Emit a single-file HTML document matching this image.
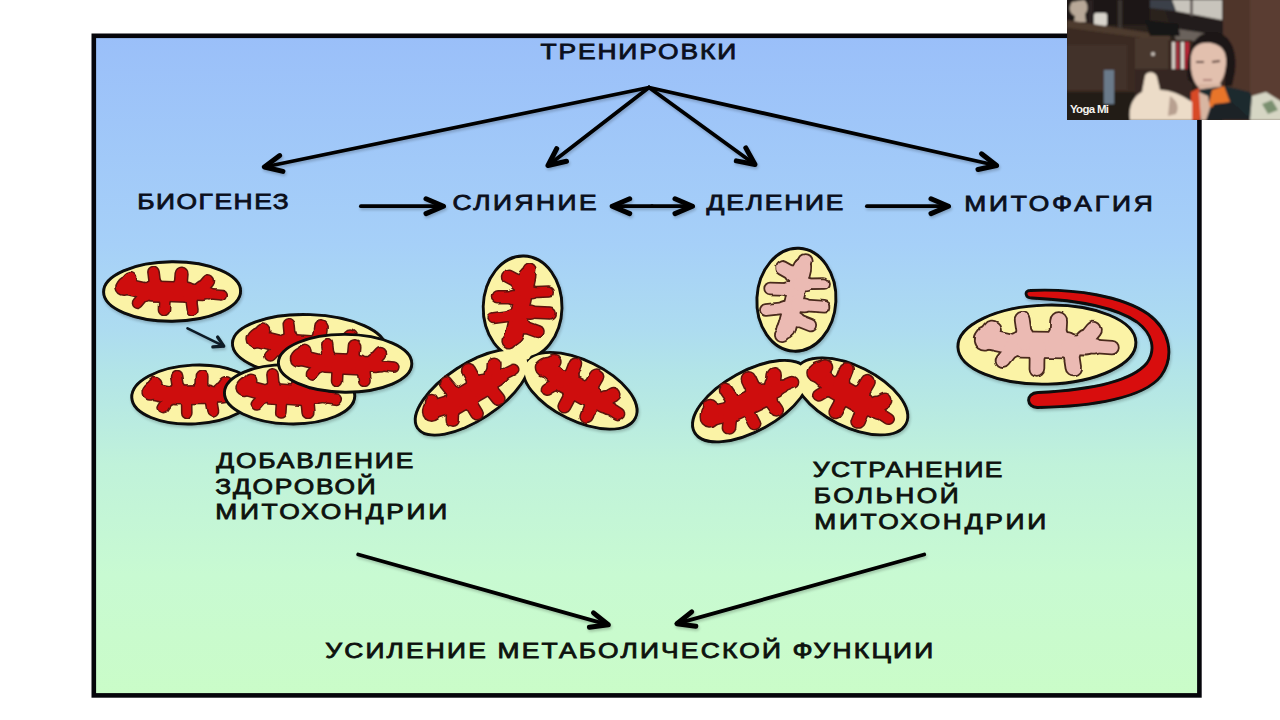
<!DOCTYPE html>
<html><head><meta charset="utf-8"><style>
html,body{margin:0;padding:0;background:#fff;width:1280px;height:720px;overflow:hidden}
svg{display:block}
</style></head><body>
<svg width="1280" height="720" viewBox="0 0 1280 720">
<defs>
<linearGradient id="bg" gradientUnits="userSpaceOnUse" x1="0" y1="36" x2="0" y2="695">
<stop offset="0" stop-color="#9abff9"/>
<stop offset="0.317" stop-color="#a6d0f8"/>
<stop offset="0.446" stop-color="#addcf0"/>
<stop offset="0.507" stop-color="#b2e4e8"/>
<stop offset="0.651" stop-color="#c0f2da"/>
<stop offset="0.818" stop-color="#c8fad2"/>
<stop offset="1" stop-color="#cafcc8"/>
</linearGradient>
<filter id="sh" x="-10%" y="-10%" width="120%" height="120%"><feGaussianBlur in="SourceAlpha" stdDeviation="1.6"/><feOffset dx="1" dy="1.5"/><feComponentTransfer><feFuncA type="linear" slope="0.22"/></feComponentTransfer><feMerge><feMergeNode/><feMergeNode in="SourceGraphic"/></feMerge></filter>
<filter id="wob" x="-15%" y="-15%" width="130%" height="130%"><feTurbulence type="fractalNoise" baseFrequency="0.06" numOctaves="1" seed="7"/><feDisplacementMap in="SourceGraphic" scale="4" xChannelSelector="R" yChannelSelector="G"/><feGaussianBlur stdDeviation="0.5"/></filter>
</defs>
<rect x="0" y="0" width="1280" height="720" fill="#ffffff"/>
<rect x="93.8" y="35.8" width="1105.6" height="659.6" fill="url(#bg)" stroke="#05050a" stroke-width="4.6"/>
<g font-family="Liberation Sans, sans-serif" font-weight="normal"><g transform="translate(540.4,59.4) scale(1.2,1)"><text x="0" y="0" textLength="163.2" lengthAdjust="spacing" font-size="22" fill="#0b0f1c" stroke="#0b0f1c" stroke-width="0.8">ТРЕНИРОВКИ</text></g><g transform="translate(137.2,209) scale(1.2,1)"><text x="0" y="0" textLength="126.2" lengthAdjust="spacing" font-size="22" fill="#0b0f1c" stroke="#0b0f1c" stroke-width="0.8">БИОГЕНЕЗ</text></g><g transform="translate(452.6,210.3) scale(1.2,1)"><text x="0" y="0" textLength="120" lengthAdjust="spacing" font-size="22" fill="#0b0f1c" stroke="#0b0f1c" stroke-width="0.8">СЛИЯНИЕ</text></g><g transform="translate(706.6,210.3) scale(1.2,1)"><text x="0" y="0" textLength="114" lengthAdjust="spacing" font-size="22" fill="#0b0f1c" stroke="#0b0f1c" stroke-width="0.8">ДЕЛЕНИЕ</text></g><g transform="translate(964.2,211.2) scale(1.2,1)"><text x="0" y="0" textLength="157.2" lengthAdjust="spacing" font-size="22" fill="#0b0f1c" stroke="#0b0f1c" stroke-width="0.8">МИТОФАГИЯ</text></g><g transform="translate(216.2,468.2) scale(1.2,1)"><text x="0" y="0" textLength="164.2" lengthAdjust="spacing" font-size="22" fill="#0e120e" stroke="#0e120e" stroke-width="0.8">ДОБАВЛЕНИЕ</text></g><g transform="translate(215.2,493.6) scale(1.2,1)"><text x="0" y="0" textLength="133.8" lengthAdjust="spacing" font-size="22" fill="#0e120e" stroke="#0e120e" stroke-width="0.8">ЗДОРОВОЙ</text></g><g transform="translate(215.2,519.4) scale(1.2,1)"><text x="0" y="0" textLength="193.3" lengthAdjust="spacing" font-size="22" fill="#0e120e" stroke="#0e120e" stroke-width="0.8">МИТОХОНДРИИ</text></g><g transform="translate(812.8,477.2) scale(1.2,1)"><text x="0" y="0" textLength="158" lengthAdjust="spacing" font-size="22" fill="#0e120e" stroke="#0e120e" stroke-width="0.8">УСТРАНЕНИЕ</text></g><g transform="translate(813.8,503) scale(1.2,1)"><text x="0" y="0" textLength="120.7" lengthAdjust="spacing" font-size="22" fill="#0e120e" stroke="#0e120e" stroke-width="0.8">БОЛЬНОЙ</text></g><g transform="translate(814.2,529) scale(1.2,1)"><text x="0" y="0" textLength="193.3" lengthAdjust="spacing" font-size="22" fill="#0e120e" stroke="#0e120e" stroke-width="0.8">МИТОХОНДРИИ</text></g><g transform="translate(325.2,657.8) scale(1.2,1)"><text x="0" y="0" textLength="506.7" lengthAdjust="spacing" font-size="22" fill="#0e120e" stroke="#0e120e" stroke-width="0.8">УСИЛЕНИЕ МЕТАБОЛИЧЕСКОЙ ФУНКЦИИ</text></g></g>
<g filter="url(#sh)"><path d="M649,87.5 L264.4,167" fill="none" stroke="#050505" stroke-width="3.8" stroke-linecap="round"/><path d="M279.7,155.6 L264.4,167 L282.9,171.4" fill="none" stroke="#050505" stroke-width="5" stroke-linecap="round" stroke-linejoin="round"/><path d="M649,87.5 L548,165.5" fill="none" stroke="#050505" stroke-width="3.8" stroke-linecap="round"/><path d="M556.7,148.6 L548,165.5 L566.5,161.3" fill="none" stroke="#050505" stroke-width="5" stroke-linecap="round" stroke-linejoin="round"/><path d="M649,87.5 L755,164.5" fill="none" stroke="#050505" stroke-width="3.8" stroke-linecap="round"/><path d="M736.3,160.9 L755,164.5 L745.8,147.9" fill="none" stroke="#050505" stroke-width="5" stroke-linecap="round" stroke-linejoin="round"/><path d="M649,87.5 L996.6,165.5" fill="none" stroke="#050505" stroke-width="3.8" stroke-linecap="round"/><path d="M978,169.5 L996.6,165.5 L981.5,153.8" fill="none" stroke="#050505" stroke-width="5" stroke-linecap="round" stroke-linejoin="round"/><path d="M360.9,206.2 L443.5,206.2" fill="none" stroke="#050505" stroke-width="3.8" stroke-linecap="round"/><path d="M426,213.6 L443.5,206.2 L426,198.8" fill="none" stroke="#050505" stroke-width="5" stroke-linecap="round" stroke-linejoin="round"/><path d="M866.9,206.2 L948.5,206.2" fill="none" stroke="#050505" stroke-width="3.8" stroke-linecap="round"/><path d="M931,213.6 L948.5,206.2 L931,198.8" fill="none" stroke="#050505" stroke-width="5" stroke-linecap="round" stroke-linejoin="round"/><path d="M652,206.2 L612.2,206.2" fill="none" stroke="#050505" stroke-width="3.8" stroke-linecap="round"/><path d="M629.7,198.8 L612.2,206.2 L629.7,213.6" fill="none" stroke="#050505" stroke-width="5" stroke-linecap="round" stroke-linejoin="round"/><path d="M652,206.2 L692.5,206.2" fill="none" stroke="#050505" stroke-width="3.8" stroke-linecap="round"/><path d="M675,213.6 L692.5,206.2 L675,198.8" fill="none" stroke="#050505" stroke-width="5" stroke-linecap="round" stroke-linejoin="round"/><path d="M358.2,554.5 L608.3,624.8" fill="none" stroke="#050505" stroke-width="3.8" stroke-linecap="round"/><path d="M589.4,627.2 L608.3,624.8 L593.5,612.9" fill="none" stroke="#050505" stroke-width="5" stroke-linecap="round" stroke-linejoin="round"/><path d="M924.2,554.5 L676.9,623.7" fill="none" stroke="#050505" stroke-width="3.8" stroke-linecap="round"/><path d="M691.7,611.9 L676.9,623.7 L695.8,626.2" fill="none" stroke="#050505" stroke-width="5" stroke-linecap="round" stroke-linejoin="round"/><path d="M187.5,328.3 L223.8,346.1" fill="none" stroke="#0c1a26" stroke-width="2.6" stroke-linecap="round"/><path d="M212.8,346.8 L223.8,346.1 L217.6,337" fill="none" stroke="#0c1a26" stroke-width="3.2" stroke-linecap="round" stroke-linejoin="round"/></g>
<g filter="url(#sh)"><g><ellipse cx="172.1" cy="291.5" rx="68.5" ry="29.7" transform="rotate(-0.4 172.1 291.5)" fill="#fbf3a6" stroke="#080808" stroke-width="2.9"/><g filter="url(#wob)"><g fill="none" stroke="#5c1410" stroke-linecap="round" stroke-linejoin="round"><path d="M126.9,286.5 L144.7,290.5 L172.1,291.5 L202.9,292.5" stroke-width="17.3"/><path d="M151.5,291 L187.2,292.3" stroke-width="21.4"/><path d="M124.1,287.1 L130.2,279.3" stroke-width="14.9"/><path d="M124.1,287.1 L126,284.8" stroke-width="17.9"/><path d="M147.4,291.7 L137.9,303" stroke-width="12.5"/><path d="M147.4,291.7 L144.6,295.1" stroke-width="14.9"/><path d="M155.6,289.2 L153.5,272" stroke-width="12.8"/><path d="M155.6,289.2 L155,284.1" stroke-width="15.3"/><path d="M180.3,290.3 L181.6,273.6" stroke-width="14.3"/><path d="M180.3,290.3 L180.7,285.3" stroke-width="17.1"/><path d="M199.5,291.3 L208.3,281.1" stroke-width="14"/><path d="M199.5,291.3 L202.1,288.3" stroke-width="16.7"/><path d="M164.6,292.7 L164,310" stroke-width="12.8"/><path d="M164.6,292.7 L164.4,297.9" stroke-width="15.3"/><path d="M189.9,292.9 L192.1,309.2" stroke-width="13.4"/><path d="M189.9,292.9 L190.6,297.8" stroke-width="16"/><path d="M202.9,293.1 L222.1,294.7" stroke-width="11.9"/><path d="M202.9,293.1 L208.7,293.6" stroke-width="14.1"/></g><g fill="none" stroke="#ce0e0e" stroke-linecap="round" stroke-linejoin="round"><path d="M126.9,286.5 L144.7,290.5 L172.1,291.5 L202.9,292.5" stroke-width="14.3"/><path d="M151.5,291 L187.2,292.3" stroke-width="18.4"/><path d="M124.1,287.1 L130.2,279.3" stroke-width="11.9"/><path d="M124.1,287.1 L126,284.8" stroke-width="14.8"/><path d="M147.4,291.7 L137.9,303" stroke-width="9.5"/><path d="M147.4,291.7 L144.6,295.1" stroke-width="11.9"/><path d="M155.6,289.2 L153.5,272" stroke-width="9.8"/><path d="M155.6,289.2 L155,284.1" stroke-width="12.3"/><path d="M180.3,290.3 L181.6,273.6" stroke-width="11.3"/><path d="M180.3,290.3 L180.7,285.3" stroke-width="14.1"/><path d="M199.5,291.3 L208.3,281.1" stroke-width="11"/><path d="M199.5,291.3 L202.1,288.3" stroke-width="13.7"/><path d="M164.6,292.7 L164,310" stroke-width="9.8"/><path d="M164.6,292.7 L164.4,297.9" stroke-width="12.3"/><path d="M189.9,292.9 L192.1,309.2" stroke-width="10.4"/><path d="M189.9,292.9 L190.6,297.8" stroke-width="13"/><path d="M202.9,293.1 L222.1,294.7" stroke-width="8.9"/><path d="M202.9,293.1 L208.7,293.6" stroke-width="11.1"/></g></g></g><g><ellipse cx="309.1" cy="345.8" rx="76.7" ry="31.2" transform="rotate(2 309.1 345.8)" fill="#fbf3a6" stroke="#080808" stroke-width="2.9"/><g filter="url(#wob)"><g fill="none" stroke="#5c1410" stroke-linecap="round" stroke-linejoin="round"><path d="M258.7,338.4 L278.5,343.5 L309.1,345.8 L343.6,348.3" stroke-width="18"/><path d="M286.1,344.4 L325.9,347.3" stroke-width="22.3"/><path d="M255.6,338.9 L262.8,331.1" stroke-width="15.5"/><path d="M255.6,338.9 L257.8,336.6" stroke-width="18.6"/><path d="M281.5,344.8 L270.4,356.3" stroke-width="13"/><path d="M281.5,344.8 L278.2,348.3" stroke-width="15.5"/><path d="M290.8,342.7 L289.1,324.5" stroke-width="13.3"/><path d="M290.8,342.7 L290.3,337.2" stroke-width="15.9"/><path d="M318.3,344.9 L320.5,327.5" stroke-width="14.9"/><path d="M318.3,344.9 L319,339.7" stroke-width="17.8"/><path d="M339.8,346.9 L350.1,336.6" stroke-width="14.5"/><path d="M339.8,346.9 L342.9,343.8" stroke-width="17.4"/><path d="M300.6,346.8 L299.2,364.8" stroke-width="13.3"/><path d="M300.6,346.8 L300.2,352.2" stroke-width="15.9"/><path d="M329,348.1 L330.7,365.3" stroke-width="13.9"/><path d="M329,348.1 L329.5,353.2" stroke-width="16.6"/><path d="M343.5,348.9 L364.9,351.5" stroke-width="12.4"/><path d="M343.5,348.9 L349.9,349.7" stroke-width="14.7"/></g><g fill="none" stroke="#ce0e0e" stroke-linecap="round" stroke-linejoin="round"><path d="M258.7,338.4 L278.5,343.5 L309.1,345.8 L343.6,348.3" stroke-width="15"/><path d="M286.1,344.4 L325.9,347.3" stroke-width="19.3"/><path d="M255.6,338.9 L262.8,331.1" stroke-width="12.5"/><path d="M255.6,338.9 L257.8,336.6" stroke-width="15.6"/><path d="M281.5,344.8 L270.4,356.3" stroke-width="10"/><path d="M281.5,344.8 L278.2,348.3" stroke-width="12.5"/><path d="M290.8,342.7 L289.1,324.5" stroke-width="10.3"/><path d="M290.8,342.7 L290.3,337.2" stroke-width="12.9"/><path d="M318.3,344.9 L320.5,327.5" stroke-width="11.9"/><path d="M318.3,344.9 L319,339.7" stroke-width="14.8"/><path d="M339.8,346.9 L350.1,336.6" stroke-width="11.5"/><path d="M339.8,346.9 L342.9,343.8" stroke-width="14.4"/><path d="M300.6,346.8 L299.2,364.8" stroke-width="10.3"/><path d="M300.6,346.8 L300.2,352.2" stroke-width="12.9"/><path d="M329,348.1 L330.7,365.3" stroke-width="10.9"/><path d="M329,348.1 L329.5,353.2" stroke-width="13.7"/><path d="M343.5,348.9 L364.9,351.5" stroke-width="9.4"/><path d="M343.5,348.9 L349.9,349.7" stroke-width="11.7"/></g></g></g><g><ellipse cx="193.8" cy="394.5" rx="62.1" ry="29.4" transform="rotate(-2.9 193.8 394.5)" fill="#fbf3a6" stroke="#080808" stroke-width="2.9"/><g filter="url(#wob)"><g fill="none" stroke="#5c1410" stroke-linecap="round" stroke-linejoin="round"><path d="M152.6,391.3 L168.9,394.6 L193.8,394.5 L221.8,394.3" stroke-width="17.1"/><path d="M175.2,394.9 L207.5,394.7" stroke-width="21.2"/><path d="M150.1,392 L155.3,384.1" stroke-width="14.8"/><path d="M150.1,392 L151.7,389.6" stroke-width="17.7"/><path d="M171.5,395.6 L163.4,407.2" stroke-width="12.4"/><path d="M171.5,395.6 L169,399.1" stroke-width="14.8"/><path d="M178.8,392.9 L176.1,376" stroke-width="12.7"/><path d="M178.8,392.9 L178,387.8" stroke-width="15.1"/><path d="M201.2,392.9 L201.6,376.4" stroke-width="14.2"/><path d="M201.2,392.9 L201.3,388" stroke-width="17"/><path d="M218.6,393.2 L226.2,382.9" stroke-width="13.9"/><path d="M218.6,393.2 L220.9,390.1" stroke-width="16.6"/><path d="M187,396 L187.3,413.1" stroke-width="12.7"/><path d="M187,396 L187.1,401.1" stroke-width="15.1"/><path d="M210,395.2 L212.7,411.2" stroke-width="13.3"/><path d="M210,395.2 L210.8,400" stroke-width="15.9"/><path d="M221.8,394.8 L239.3,395.7" stroke-width="11.8"/><path d="M221.8,394.8 L227,395.1" stroke-width="14"/></g><g fill="none" stroke="#ce0e0e" stroke-linecap="round" stroke-linejoin="round"><path d="M152.6,391.3 L168.9,394.6 L193.8,394.5 L221.8,394.3" stroke-width="14.1"/><path d="M175.2,394.9 L207.5,394.7" stroke-width="18.2"/><path d="M150.1,392 L155.3,384.1" stroke-width="11.8"/><path d="M150.1,392 L151.7,389.6" stroke-width="14.7"/><path d="M171.5,395.6 L163.4,407.2" stroke-width="9.4"/><path d="M171.5,395.6 L169,399.1" stroke-width="11.8"/><path d="M178.8,392.9 L176.1,376" stroke-width="9.7"/><path d="M178.8,392.9 L178,387.8" stroke-width="12.1"/><path d="M201.2,392.9 L201.6,376.4" stroke-width="11.2"/><path d="M201.2,392.9 L201.3,388" stroke-width="14"/><path d="M218.6,393.2 L226.2,382.9" stroke-width="10.9"/><path d="M218.6,393.2 L220.9,390.1" stroke-width="13.6"/><path d="M187,396 L187.3,413.1" stroke-width="9.7"/><path d="M187,396 L187.1,401.1" stroke-width="12.1"/><path d="M210,395.2 L212.7,411.2" stroke-width="10.3"/><path d="M210,395.2 L210.8,400" stroke-width="12.9"/><path d="M221.8,394.8 L239.3,395.7" stroke-width="8.8"/><path d="M221.8,394.8 L227,395.1" stroke-width="11"/></g></g></g><g><ellipse cx="289.6" cy="394.3" rx="65.2" ry="29.6" transform="rotate(1.6 289.6 394.3)" fill="#fbf3a6" stroke="#080808" stroke-width="2.9"/><g filter="url(#wob)"><g fill="none" stroke="#5c1410" stroke-linecap="round" stroke-linejoin="round"><path d="M246.7,387.8 L263.6,392.4 L289.6,394.3 L318.9,396.3" stroke-width="17.2"/><path d="M270.1,393.2 L303.9,395.6" stroke-width="21.4"/><path d="M244.1,388.3 L250.2,380.8" stroke-width="14.8"/><path d="M244.1,388.3 L245.9,386" stroke-width="17.8"/><path d="M266.1,393.6 L256.7,404.6" stroke-width="12.5"/><path d="M266.1,393.6 L263.3,396.9" stroke-width="14.8"/><path d="M274,391.5 L272.5,374.3" stroke-width="12.8"/><path d="M274,391.5 L273.6,386.3" stroke-width="15.2"/><path d="M297.5,393.3 L299.2,376.8" stroke-width="14.2"/><path d="M297.5,393.3 L298,388.4" stroke-width="17.1"/><path d="M315.7,395 L324.4,385.2" stroke-width="14"/><path d="M315.7,395 L318.3,392.1" stroke-width="16.7"/><path d="M282.4,395.3 L281.3,412.4" stroke-width="12.8"/><path d="M282.4,395.3 L282.1,400.4" stroke-width="15.2"/><path d="M306.5,396.3 L308,412.6" stroke-width="13.4"/><path d="M306.5,396.3 L307,401.2" stroke-width="16"/><path d="M318.9,396.9 L337.1,399.2" stroke-width="11.9"/><path d="M318.9,396.9 L324.3,397.6" stroke-width="14.1"/></g><g fill="none" stroke="#ce0e0e" stroke-linecap="round" stroke-linejoin="round"><path d="M246.7,387.8 L263.6,392.4 L289.6,394.3 L318.9,396.3" stroke-width="14.2"/><path d="M270.1,393.2 L303.9,395.6" stroke-width="18.4"/><path d="M244.1,388.3 L250.2,380.8" stroke-width="11.8"/><path d="M244.1,388.3 L245.9,386" stroke-width="14.8"/><path d="M266.1,393.6 L256.7,404.6" stroke-width="9.5"/><path d="M266.1,393.6 L263.3,396.9" stroke-width="11.8"/><path d="M274,391.5 L272.5,374.3" stroke-width="9.8"/><path d="M274,391.5 L273.6,386.3" stroke-width="12.2"/><path d="M297.5,393.3 L299.2,376.8" stroke-width="11.2"/><path d="M297.5,393.3 L298,388.4" stroke-width="14.1"/><path d="M315.7,395 L324.4,385.2" stroke-width="11"/><path d="M315.7,395 L318.3,392.1" stroke-width="13.7"/><path d="M282.4,395.3 L281.3,412.4" stroke-width="9.8"/><path d="M282.4,395.3 L282.1,400.4" stroke-width="12.2"/><path d="M306.5,396.3 L308,412.6" stroke-width="10.4"/><path d="M306.5,396.3 L307,401.2" stroke-width="13"/><path d="M318.9,396.9 L337.1,399.2" stroke-width="8.9"/><path d="M318.9,396.9 L324.3,397.6" stroke-width="11.1"/></g></g></g><g><ellipse cx="345.1" cy="363.3" rx="66.7" ry="28.9" transform="rotate(0.4 345.1 363.3)" fill="#fbf3a6" stroke="#080808" stroke-width="2.9"/><g filter="url(#wob)"><g fill="none" stroke="#5c1410" stroke-linecap="round" stroke-linejoin="round"><path d="M301.1,357.8 L318.4,362 L345.1,363.3 L375.1,364.7" stroke-width="16.9"/><path d="M325.1,362.6 L359.8,364.3" stroke-width="20.9"/><path d="M298.4,358.4 L304.5,350.9" stroke-width="14.6"/><path d="M298.4,358.4 L300.3,356.1" stroke-width="17.4"/><path d="M321.1,363.1 L311.7,374" stroke-width="12.2"/><path d="M321.1,363.1 L318.3,366.4" stroke-width="14.6"/><path d="M329.1,360.9 L327.2,344.1" stroke-width="12.5"/><path d="M329.1,360.9 L328.5,355.8" stroke-width="14.9"/><path d="M353.1,362.2 L354.6,346" stroke-width="14"/><path d="M353.1,362.2 L353.5,357.3" stroke-width="16.7"/><path d="M371.8,363.5 L380.5,353.7" stroke-width="13.7"/><path d="M371.8,363.5 L374.4,360.6" stroke-width="16.4"/><path d="M337.8,364.4 L337,381.2" stroke-width="12.5"/><path d="M337.8,364.4 L337.5,369.4" stroke-width="14.9"/><path d="M362.4,364.9 L364.3,380.8" stroke-width="13.1"/><path d="M362.4,364.9 L363,369.6" stroke-width="15.6"/><path d="M375.1,365.2 L393.8,367.1" stroke-width="11.7"/><path d="M375.1,365.2 L380.7,365.8" stroke-width="13.8"/></g><g fill="none" stroke="#ce0e0e" stroke-linecap="round" stroke-linejoin="round"><path d="M301.1,357.8 L318.4,362 L345.1,363.3 L375.1,364.7" stroke-width="13.9"/><path d="M325.1,362.6 L359.8,364.3" stroke-width="17.9"/><path d="M298.4,358.4 L304.5,350.9" stroke-width="11.6"/><path d="M298.4,358.4 L300.3,356.1" stroke-width="14.4"/><path d="M321.1,363.1 L311.7,374" stroke-width="9.2"/><path d="M321.1,363.1 L318.3,366.4" stroke-width="11.6"/><path d="M329.1,360.9 L327.2,344.1" stroke-width="9.5"/><path d="M329.1,360.9 L328.5,355.8" stroke-width="11.9"/><path d="M353.1,362.2 L354.6,346" stroke-width="11"/><path d="M353.1,362.2 L353.5,357.3" stroke-width="13.7"/><path d="M371.8,363.5 L380.5,353.7" stroke-width="10.7"/><path d="M371.8,363.5 L374.4,360.6" stroke-width="13.4"/><path d="M337.8,364.4 L337,381.2" stroke-width="9.5"/><path d="M337.8,364.4 L337.5,369.4" stroke-width="11.9"/><path d="M362.4,364.9 L364.3,380.8" stroke-width="10.1"/><path d="M362.4,364.9 L363,369.6" stroke-width="12.6"/><path d="M375.1,365.2 L393.8,367.1" stroke-width="8.7"/><path d="M375.1,365.2 L380.7,365.8" stroke-width="10.8"/></g></g></g><g><ellipse cx="522.6" cy="307.3" rx="49.9" ry="38" transform="rotate(91.3 522.6 307.3)" fill="#080808" stroke="#080808" stroke-width="5.6"/><ellipse cx="472" cy="392.2" rx="63.8" ry="26.6" transform="rotate(-33.2 472 392.2)" fill="#080808" stroke="#080808" stroke-width="5.6"/><ellipse cx="580.1" cy="390.8" rx="60.2" ry="28.7" transform="rotate(26.1 580.1 390.8)" fill="#080808" stroke="#080808" stroke-width="5.6"/><ellipse cx="522.6" cy="307.3" rx="49.9" ry="38" transform="rotate(91.3 522.6 307.3)" fill="#fbf3a6"/><ellipse cx="472" cy="392.2" rx="63.8" ry="26.6" transform="rotate(-33.2 472 392.2)" fill="#fbf3a6"/><ellipse cx="580.1" cy="390.8" rx="60.2" ry="28.7" transform="rotate(26.1 580.1 390.8)" fill="#fbf3a6"/><circle cx="525" cy="354" r="6" fill="#fbf3a6"/><g filter="url(#wob)"><g fill="none" stroke="#5c1410" stroke-linecap="round" stroke-linejoin="round"><path d="M527.1,276.5 L520.7,307.3 L514.4,334.6" stroke-width="19"/><path d="M527.1,276.5 L529.6,269.5" stroke-width="14.4"/><path d="M527.1,276.5 L527.9,274.4" stroke-width="17.2"/><path d="M523.1,284.9 L508.1,277" stroke-width="14.8"/><path d="M523.1,284.9 L518.6,282.5" stroke-width="17.7"/><path d="M520.9,297.3 L497,297.2" stroke-width="12.5"/><path d="M520.9,297.3 L513.8,297.3" stroke-width="14.9"/><path d="M518.6,314.7 L493.5,318.1" stroke-width="12.5"/><path d="M518.6,314.7 L511.1,315.7" stroke-width="14.9"/><path d="M524.9,292.4 L548.8,291.4" stroke-width="12.5"/><path d="M524.9,292.4 L532,292.1" stroke-width="14.9"/><path d="M522.5,312.3 L549.8,313.4" stroke-width="12.5"/><path d="M522.5,312.3 L530.7,312.6" stroke-width="14.9"/><path d="M518.4,324.7 L537.2,331.6" stroke-width="13.3"/><path d="M518.4,324.7 L524,326.8" stroke-width="15.8"/><path d="M514.4,334.6 L508.9,341.9" stroke-width="15.2"/><path d="M514.4,334.6 L512.7,336.8" stroke-width="18.2"/></g><g fill="none" stroke="#ce0e0e" stroke-linecap="round" stroke-linejoin="round"><path d="M527.1,276.5 L520.7,307.3 L514.4,334.6" stroke-width="16"/><path d="M527.1,276.5 L529.6,269.5" stroke-width="11.4"/><path d="M527.1,276.5 L527.9,274.4" stroke-width="14.2"/><path d="M523.1,284.9 L508.1,277" stroke-width="11.8"/><path d="M523.1,284.9 L518.6,282.5" stroke-width="14.7"/><path d="M520.9,297.3 L497,297.2" stroke-width="9.5"/><path d="M520.9,297.3 L513.8,297.3" stroke-width="11.9"/><path d="M518.6,314.7 L493.5,318.1" stroke-width="9.5"/><path d="M518.6,314.7 L511.1,315.7" stroke-width="11.9"/><path d="M524.9,292.4 L548.8,291.4" stroke-width="9.5"/><path d="M524.9,292.4 L532,292.1" stroke-width="11.9"/><path d="M522.5,312.3 L549.8,313.4" stroke-width="9.5"/><path d="M522.5,312.3 L530.7,312.6" stroke-width="11.9"/><path d="M518.4,324.7 L537.2,331.6" stroke-width="10.3"/><path d="M518.4,324.7 L524,326.8" stroke-width="12.8"/><path d="M514.4,334.6 L508.9,341.9" stroke-width="12.2"/><path d="M514.4,334.6 L512.7,336.8" stroke-width="15.2"/></g></g><g filter="url(#wob)"><g fill="none" stroke="#5c1410" stroke-linecap="round" stroke-linejoin="round"><path d="M433.5,410.2 L449.9,405.1 L472,392.2 L496.8,377.6" stroke-width="19"/><path d="M455.6,402.1 L484.3,385.3" stroke-width="23.6"/><path d="M431.7,412.2 L431.8,401.8" stroke-width="16.3"/><path d="M431.7,412.2 L431.7,409.1" stroke-width="19.6"/><path d="M452.8,404.8 L452.2,420.2" stroke-width="13.6"/><path d="M452.8,404.8 L452.6,409.4" stroke-width="16.3"/><path d="M457.7,398.4 L445.6,383.3" stroke-width="14"/><path d="M457.7,398.4 L454.1,393.8" stroke-width="16.7"/><path d="M477.7,386.9 L468.6,370.6" stroke-width="15.6"/><path d="M477.7,386.9 L474.9,382" stroke-width="18.8"/><path d="M493.4,378.2 L494.1,364.2" stroke-width="15.3"/><path d="M493.4,378.2 L493.6,374" stroke-width="18.4"/><path d="M466.9,397.2 L476.9,413.6" stroke-width="14"/><path d="M466.9,397.2 L469.9,402.1" stroke-width="16.7"/><path d="M486.8,384.5 L498.4,398.8" stroke-width="14.6"/><path d="M486.8,384.5 L490.3,388.8" stroke-width="17.5"/><path d="M497.1,378.1 L513.2,370" stroke-width="13"/><path d="M497.1,378.1 L501.9,375.7" stroke-width="15.5"/></g><g fill="none" stroke="#ce0e0e" stroke-linecap="round" stroke-linejoin="round"><path d="M433.5,410.2 L449.9,405.1 L472,392.2 L496.8,377.6" stroke-width="16"/><path d="M455.6,402.1 L484.3,385.3" stroke-width="20.6"/><path d="M431.7,412.2 L431.8,401.8" stroke-width="13.3"/><path d="M431.7,412.2 L431.7,409.1" stroke-width="16.6"/><path d="M452.8,404.8 L452.2,420.2" stroke-width="10.6"/><path d="M452.8,404.8 L452.6,409.4" stroke-width="13.3"/><path d="M457.7,398.4 L445.6,383.3" stroke-width="11"/><path d="M457.7,398.4 L454.1,393.8" stroke-width="13.7"/><path d="M477.7,386.9 L468.6,370.6" stroke-width="12.6"/><path d="M477.7,386.9 L474.9,382" stroke-width="15.8"/><path d="M493.4,378.2 L494.1,364.2" stroke-width="12.3"/><path d="M493.4,378.2 L493.6,374" stroke-width="15.4"/><path d="M466.9,397.2 L476.9,413.6" stroke-width="11"/><path d="M466.9,397.2 L469.9,402.1" stroke-width="13.7"/><path d="M486.8,384.5 L498.4,398.8" stroke-width="11.6"/><path d="M486.8,384.5 L490.3,388.8" stroke-width="14.5"/><path d="M497.1,378.1 L513.2,370" stroke-width="10"/><path d="M497.1,378.1 L501.9,375.7" stroke-width="12.5"/></g></g><g filter="url(#wob)"><g fill="none" stroke="#5c1410" stroke-linecap="round" stroke-linejoin="round"><path d="M547.1,367.8 L559.1,379 L580.1,390.8 L603.8,403.9" stroke-width="19.3"/><path d="M564.2,382.2 L591.5,397.5" stroke-width="24"/><path d="M544.6,367.4 L553.4,361.9" stroke-width="16.5"/><path d="M544.6,367.4 L547.3,365.7" stroke-width="19.9"/><path d="M560.6,381.3 L547.4,389.1" stroke-width="13.8"/><path d="M560.6,381.3 L556.7,383.6" stroke-width="16.5"/><path d="M568.3,382 L575.3,363.6" stroke-width="14.2"/><path d="M568.3,382 L570.4,376.5" stroke-width="17"/><path d="M587.2,392.8 L596.6,376.3" stroke-width="15.9"/><path d="M587.2,392.8 L590,387.8" stroke-width="19.1"/><path d="M601.7,401.4 L613.8,394.5" stroke-width="15.5"/><path d="M601.7,401.4 L605.4,399.3" stroke-width="18.7"/><path d="M573.6,389.1 L564.4,406.5" stroke-width="14.2"/><path d="M573.6,389.1 L570.8,394.3" stroke-width="17"/><path d="M593.4,399.2 L586.8,416.7" stroke-width="14.9"/><path d="M593.4,399.2 L591.4,404.5" stroke-width="17.8"/><path d="M603.5,404.5 L617.8,413.8" stroke-width="13.2"/><path d="M603.5,404.5 L607.8,407.3" stroke-width="15.7"/></g><g fill="none" stroke="#ce0e0e" stroke-linecap="round" stroke-linejoin="round"><path d="M547.1,367.8 L559.1,379 L580.1,390.8 L603.8,403.9" stroke-width="16.3"/><path d="M564.2,382.2 L591.5,397.5" stroke-width="21"/><path d="M544.6,367.4 L553.4,361.9" stroke-width="13.5"/><path d="M544.6,367.4 L547.3,365.7" stroke-width="16.9"/><path d="M560.6,381.3 L547.4,389.1" stroke-width="10.8"/><path d="M560.6,381.3 L556.7,383.6" stroke-width="13.5"/><path d="M568.3,382 L575.3,363.6" stroke-width="11.2"/><path d="M568.3,382 L570.4,376.5" stroke-width="14"/><path d="M587.2,392.8 L596.6,376.3" stroke-width="12.9"/><path d="M587.2,392.8 L590,387.8" stroke-width="16.1"/><path d="M601.7,401.4 L613.8,394.5" stroke-width="12.5"/><path d="M601.7,401.4 L605.4,399.3" stroke-width="15.7"/><path d="M573.6,389.1 L564.4,406.5" stroke-width="11.2"/><path d="M573.6,389.1 L570.8,394.3" stroke-width="14"/><path d="M593.4,399.2 L586.8,416.7" stroke-width="11.9"/><path d="M593.4,399.2 L591.4,404.5" stroke-width="14.8"/><path d="M603.5,404.5 L617.8,413.8" stroke-width="10.2"/><path d="M603.5,404.5 L607.8,407.3" stroke-width="12.7"/></g></g></g><g><ellipse cx="796.4" cy="299.7" rx="51.5" ry="39.5" transform="rotate(93 796.4 299.7)" fill="#fbf3a6" stroke="#080808" stroke-width="2.9"/><g filter="url(#wob)"><g fill="none" stroke="#4a2a1e" stroke-linecap="round" stroke-linejoin="round"><path d="M802,268 L794.4,299.6 L787,327.6" stroke-width="20.2"/><path d="M802,268 L804.8,260.9" stroke-width="15.4"/><path d="M802,268 L802.8,265.9" stroke-width="18.4"/><path d="M797.6,276.6 L782.2,268" stroke-width="15.8"/><path d="M797.6,276.6 L793,274" stroke-width="18.9"/><path d="M795,289.3 L770.1,288.5" stroke-width="13.5"/><path d="M795,289.3 L787.5,289.1" stroke-width="15.9"/><path d="M792.1,307.2 L765.8,310" stroke-width="13.5"/><path d="M792.1,307.2 L784.2,308" stroke-width="15.9"/><path d="M799.2,284.4 L824.1,284.1" stroke-width="13.5"/><path d="M799.2,284.4 L806.7,284.3" stroke-width="15.9"/><path d="M796.1,304.8 L824.5,306.8" stroke-width="13.5"/><path d="M796.1,304.8 L804.6,305.4" stroke-width="15.9"/><path d="M791.5,317.5 L810.9,325.2" stroke-width="14.3"/><path d="M791.5,317.5 L797.3,319.8" stroke-width="16.9"/><path d="M787,327.6 L781.1,335" stroke-width="16.2"/><path d="M787,327.6 L785.3,329.8" stroke-width="19.4"/></g><g fill="none" stroke="#ebbab3" stroke-linecap="round" stroke-linejoin="round"><path d="M802,268 L794.4,299.6 L787,327.6" stroke-width="16.6"/><path d="M802,268 L804.8,260.9" stroke-width="11.8"/><path d="M802,268 L802.8,265.9" stroke-width="14.8"/><path d="M797.6,276.6 L782.2,268" stroke-width="12.2"/><path d="M797.6,276.6 L793,274" stroke-width="15.3"/><path d="M795,289.3 L770.1,288.5" stroke-width="9.9"/><path d="M795,289.3 L787.5,289.1" stroke-width="12.3"/><path d="M792.1,307.2 L765.8,310" stroke-width="9.9"/><path d="M792.1,307.2 L784.2,308" stroke-width="12.3"/><path d="M799.2,284.4 L824.1,284.1" stroke-width="9.9"/><path d="M799.2,284.4 L806.7,284.3" stroke-width="12.3"/><path d="M796.1,304.8 L824.5,306.8" stroke-width="9.9"/><path d="M796.1,304.8 L804.6,305.4" stroke-width="12.3"/><path d="M791.5,317.5 L810.9,325.2" stroke-width="10.7"/><path d="M791.5,317.5 L797.3,319.8" stroke-width="13.3"/><path d="M787,327.6 L781.1,335" stroke-width="12.6"/><path d="M787,327.6 L785.3,329.8" stroke-width="15.8"/></g></g></g><g><ellipse cx="750.7" cy="401.1" rx="62.9" ry="28.5" transform="rotate(-29 750.7 401.1)" fill="#080808" stroke="#080808" stroke-width="5.6"/><ellipse cx="851.3" cy="396.4" rx="59.8" ry="28.9" transform="rotate(26.5 851.3 396.4)" fill="#080808" stroke="#080808" stroke-width="5.6"/><ellipse cx="750.7" cy="401.1" rx="62.9" ry="28.5" transform="rotate(-29 750.7 401.1)" fill="#fbf3a6"/><ellipse cx="851.3" cy="396.4" rx="59.8" ry="28.9" transform="rotate(26.5 851.3 396.4)" fill="#fbf3a6"/><g filter="url(#wob)"><g fill="none" stroke="#5c1410" stroke-linecap="round" stroke-linejoin="round"><path d="M711.4,415.8 L728,412.1 L750.7,401.1 L776.1,388.6" stroke-width="19.4"/><path d="M733.9,409.7 L763.3,395.3" stroke-width="24.2"/><path d="M709.5,417.7 L710.2,407.1" stroke-width="16.7"/><path d="M709.5,417.7 L709.7,414.5" stroke-width="20.1"/><path d="M730.9,412.1 L729.5,427.7" stroke-width="13.9"/><path d="M730.9,412.1 L730.5,416.8" stroke-width="16.7"/><path d="M736.2,406 L724.9,389.6" stroke-width="14.3"/><path d="M736.2,406 L732.8,401.1" stroke-width="17.1"/><path d="M756.6,396.2 L748.5,378.9" stroke-width="16"/><path d="M756.6,396.2 L754.2,391" stroke-width="19.2"/><path d="M772.7,388.9 L774.2,374.8" stroke-width="15.7"/><path d="M772.7,388.9 L773.2,384.7" stroke-width="18.8"/><path d="M745.3,405.7 L754.4,423.3" stroke-width="14.3"/><path d="M745.3,405.7 L748,410.9" stroke-width="17.1"/><path d="M765.8,394.7 L776.6,410.2" stroke-width="15"/><path d="M765.8,394.7 L769.1,399.3" stroke-width="18"/><path d="M776.5,389.2 L792.8,382.4" stroke-width="13.3"/><path d="M776.5,389.2 L781.4,387.1" stroke-width="15.8"/></g><g fill="none" stroke="#ce0e0e" stroke-linecap="round" stroke-linejoin="round"><path d="M711.4,415.8 L728,412.1 L750.7,401.1 L776.1,388.6" stroke-width="16.4"/><path d="M733.9,409.7 L763.3,395.3" stroke-width="21.2"/><path d="M709.5,417.7 L710.2,407.1" stroke-width="13.7"/><path d="M709.5,417.7 L709.7,414.5" stroke-width="17.1"/><path d="M730.9,412.1 L729.5,427.7" stroke-width="10.9"/><path d="M730.9,412.1 L730.5,416.8" stroke-width="13.7"/><path d="M736.2,406 L724.9,389.6" stroke-width="11.3"/><path d="M736.2,406 L732.8,401.1" stroke-width="14.1"/><path d="M756.6,396.2 L748.5,378.9" stroke-width="13"/><path d="M756.6,396.2 L754.2,391" stroke-width="16.2"/><path d="M772.7,388.9 L774.2,374.8" stroke-width="12.7"/><path d="M772.7,388.9 L773.2,384.7" stroke-width="15.8"/><path d="M745.3,405.7 L754.4,423.3" stroke-width="11.3"/><path d="M745.3,405.7 L748,410.9" stroke-width="14.1"/><path d="M765.8,394.7 L776.6,410.2" stroke-width="12"/><path d="M765.8,394.7 L769.1,399.3" stroke-width="15"/><path d="M776.5,389.2 L792.8,382.4" stroke-width="10.3"/><path d="M776.5,389.2 L781.4,387.1" stroke-width="12.8"/></g></g><g filter="url(#wob)"><g fill="none" stroke="#5c1410" stroke-linecap="round" stroke-linejoin="round"><path d="M818.7,373.3 L830.5,384.5 L851.3,396.4 L874.8,409.6" stroke-width="19.4"/><path d="M835.5,387.8 L862.6,403.2" stroke-width="24.1"/><path d="M816.3,372.8 L825,367.3" stroke-width="16.6"/><path d="M816.3,372.8 L818.9,371.2" stroke-width="20.1"/><path d="M832,386.8 L818.8,394.7" stroke-width="13.9"/><path d="M832,386.8 L828.1,389.2" stroke-width="16.6"/><path d="M839.7,387.6 L846.9,369.1" stroke-width="14.3"/><path d="M839.7,387.6 L841.8,382" stroke-width="17.1"/><path d="M858.3,398.4 L867.9,381.8" stroke-width="16"/><path d="M858.3,398.4 L861.2,393.4" stroke-width="19.2"/><path d="M872.7,407.1 L884.8,400.2" stroke-width="15.6"/><path d="M872.7,407.1 L876.3,405" stroke-width="18.8"/><path d="M844.8,394.7 L835.4,412.1" stroke-width="14.3"/><path d="M844.8,394.7 L842,399.9" stroke-width="17.1"/><path d="M864.5,404.9 L857.7,422.4" stroke-width="14.9"/><path d="M864.5,404.9 L862.4,410.1" stroke-width="17.9"/><path d="M874.5,410.2 L888.5,419.5" stroke-width="13.2"/><path d="M874.5,410.2 L878.7,413" stroke-width="15.8"/></g><g fill="none" stroke="#ce0e0e" stroke-linecap="round" stroke-linejoin="round"><path d="M818.7,373.3 L830.5,384.5 L851.3,396.4 L874.8,409.6" stroke-width="16.4"/><path d="M835.5,387.8 L862.6,403.2" stroke-width="21.1"/><path d="M816.3,372.8 L825,367.3" stroke-width="13.6"/><path d="M816.3,372.8 L818.9,371.2" stroke-width="17.1"/><path d="M832,386.8 L818.8,394.7" stroke-width="10.9"/><path d="M832,386.8 L828.1,389.2" stroke-width="13.6"/><path d="M839.7,387.6 L846.9,369.1" stroke-width="11.3"/><path d="M839.7,387.6 L841.8,382" stroke-width="14.1"/><path d="M858.3,398.4 L867.9,381.8" stroke-width="13"/><path d="M858.3,398.4 L861.2,393.4" stroke-width="16.2"/><path d="M872.7,407.1 L884.8,400.2" stroke-width="12.6"/><path d="M872.7,407.1 L876.3,405" stroke-width="15.8"/><path d="M844.8,394.7 L835.4,412.1" stroke-width="11.3"/><path d="M844.8,394.7 L842,399.9" stroke-width="14.1"/><path d="M864.5,404.9 L857.7,422.4" stroke-width="11.9"/><path d="M864.5,404.9 L862.4,410.1" stroke-width="14.9"/><path d="M874.5,410.2 L888.5,419.5" stroke-width="10.2"/><path d="M874.5,410.2 L878.7,413" stroke-width="12.8"/></g></g></g><path d="M1030,290.5 C1075,288.5 1122,296 1148,314 C1170,330 1175,356 1161,376 C1144,398 1092,406.5 1038,407.5 C1026,408 1025,393 1038,392.5 C1090,390 1132,381 1147,363 C1156,350 1153,334 1137,322 C1114,306 1075,300 1032,298 C1025,298 1024,290.5 1030,290.5 Z" fill="#d80a0a" stroke="#080808" stroke-width="2.8" stroke-linejoin="round"/><g><ellipse cx="1046.9" cy="344.6" rx="89" ry="39.5" transform="rotate(-1.5 1046.9 344.6)" fill="#fbf3a6" stroke="#080808" stroke-width="2.9"/><g filter="url(#wob)"><g fill="none" stroke="#4a2a1e" stroke-linecap="round" stroke-linejoin="round"><path d="M988,339 L1011.3,344 L1046.9,344.6 L1087,345.1" stroke-width="22.6"/><path d="M1020.2,344.5 L1066.5,345.3" stroke-width="28.1"/><path d="M984.5,339.9 L992.2,329.4" stroke-width="19.4"/><path d="M984.5,339.9 L986.8,336.8" stroke-width="23.4"/><path d="M1014.9,345.4 L1002.8,360.8" stroke-width="16.2"/><path d="M1014.9,345.4 L1011.3,350" stroke-width="19.4"/><path d="M1025.5,342 L1022.2,319.2" stroke-width="16.6"/><path d="M1025.5,342 L1024.5,335.2" stroke-width="19.9"/><path d="M1057.5,342.7 L1058.7,320.6" stroke-width="18.6"/><path d="M1057.5,342.7 L1057.9,336.1" stroke-width="22.4"/><path d="M1082.5,343.7 L1093.7,329.9" stroke-width="18.2"/><path d="M1082.5,343.7 L1085.9,339.5" stroke-width="21.9"/><path d="M1037.2,346.4 L1036.9,369.4" stroke-width="16.6"/><path d="M1037.2,346.4 L1037.1,353.3" stroke-width="19.9"/><path d="M1070.1,346 L1073.3,367.6" stroke-width="17.4"/><path d="M1070.1,346 L1071.1,352.5" stroke-width="20.9"/><path d="M1087,345.9 L1112,347.6" stroke-width="15.4"/><path d="M1087,345.9 L1094.5,346.4" stroke-width="18.4"/></g><g fill="none" stroke="#ebbab3" stroke-linecap="round" stroke-linejoin="round"><path d="M988,339 L1011.3,344 L1046.9,344.6 L1087,345.1" stroke-width="19"/><path d="M1020.2,344.5 L1066.5,345.3" stroke-width="24.5"/><path d="M984.5,339.9 L992.2,329.4" stroke-width="15.8"/><path d="M984.5,339.9 L986.8,336.8" stroke-width="19.8"/><path d="M1014.9,345.4 L1002.8,360.8" stroke-width="12.6"/><path d="M1014.9,345.4 L1011.3,350" stroke-width="15.8"/><path d="M1025.5,342 L1022.2,319.2" stroke-width="13"/><path d="M1025.5,342 L1024.5,335.2" stroke-width="16.3"/><path d="M1057.5,342.7 L1058.7,320.6" stroke-width="15"/><path d="M1057.5,342.7 L1057.9,336.1" stroke-width="18.8"/><path d="M1082.5,343.7 L1093.7,329.9" stroke-width="14.6"/><path d="M1082.5,343.7 L1085.9,339.5" stroke-width="18.3"/><path d="M1037.2,346.4 L1036.9,369.4" stroke-width="13"/><path d="M1037.2,346.4 L1037.1,353.3" stroke-width="16.3"/><path d="M1070.1,346 L1073.3,367.6" stroke-width="13.8"/><path d="M1070.1,346 L1071.1,352.5" stroke-width="17.3"/><path d="M1087,345.9 L1112,347.6" stroke-width="11.8"/><path d="M1087,345.9 L1094.5,346.4" stroke-width="14.8"/></g></g></g></g>
<clipPath id="wc"><rect x="1067" y="0" width="213" height="120"/></clipPath>
<filter id="bl" x="-5%" y="-5%" width="110%" height="110%"><feGaussianBlur stdDeviation="1.1"/></filter>
<g clip-path="url(#wc)"><g filter="url(#bl)">
<rect x="1060" y="-5" width="225" height="130" fill="#2c211c"/>
<rect x="1060" y="-5" width="90" height="30" fill="#1c1816"/>
<path d="M1072,2 C1068,8 1070,14 1075,16 L1074,22 L1086,22 L1085,14 C1089,10 1088,3 1084,0 Z" fill="#b8a898"/>
<rect x="1094" y="13" width="13" height="13" rx="2" fill="#d8d4cc"/>
<rect x="1088" y="0" width="5" height="28" fill="#2a2420"/>
<rect x="1118" y="0" width="4" height="32" fill="#3a3430"/>
<path d="M1172,0 L1222,0 L1222,20 L1176,11 Z" fill="#c8c4bc"/>
<path d="M1150,0 L1172,0 L1176,11 L1150,8 Z" fill="#3a4048"/>
<rect x="1190" y="0" width="3" height="16" fill="#6a6460"/>
<path d="M1165,10 L1232,24 L1230,36 L1172,30 Z" fill="#221c1a"/><path d="M1172,28 L1210,34 L1208,42 L1176,40 Z" fill="#6a625c"/>
<path d="M1067,20 L1170,36 L1170,42 L1067,28 Z" fill="#4e3a2e"/>
<path d="M1067,28 L1170,42 L1170,120 L1067,120 Z" fill="#3a2a22"/>
<rect x="1067" y="45" width="60" height="45" fill="#43322a"/><rect x="1060" y="92" width="75" height="30" fill="#201a16"/>
<rect x="1135" y="38" width="33" height="31" fill="#4a382e"/>
<circle cx="1153" cy="54" r="2" fill="#c8c0b8"/>
<rect x="1168" y="40" width="24" height="31" fill="#3a2a24"/>
<rect x="1172" y="42" width="3" height="28" fill="#d8d0c8"/>
<rect x="1176" y="42" width="3" height="28" fill="#a83040"/>
<rect x="1181" y="42" width="3" height="28" fill="#e0d8d0"/>
<rect x="1185" y="42" width="4" height="28" fill="#b82838"/>
<rect x="1135" y="69" width="57" height="51" fill="#362820"/>
<path d="M1145,20 L1178,24 L1180,36 L1150,36 Z" fill="#141212"/>
<rect x="1104" y="70" width="10" height="34" fill="#6a7a8a"/>
<rect x="1223" y="-5" width="60" height="130" fill="#50342a"/>
<rect x="1250" y="-5" width="35" height="130" fill="#5a3c30"/>
<path d="M1188,80 C1184,52 1194,32 1212,32 C1230,32 1238,50 1235,72 L1232,86 L1224,86 L1226,58 L1197,58 L1194,84 Z" fill="#1a1614"/>
<path d="M1191,56 C1193,44 1202,42 1211,43 C1222,45 1227,52 1226,64 C1225,80 1217,91 1208,91 C1197,91 1189,78 1191,56 Z" fill="#e2c0ae"/>
<path d="M1196,62 L1204,62 M1212,62 L1220,61" fill="none" stroke="#5a4038" stroke-width="1.8"/>
<path d="M1203,80 L1212,80" fill="none" stroke="#a07068" stroke-width="1.5"/>
<rect x="1199" y="84" width="22" height="24" fill="#d8b4a0"/>
<path d="M1182,120 L1186,100 L1196,90 L1225,86 L1250,92 L1262,120 Z" fill="#1e2a2e"/>
<path d="M1190,120 L1191,92 L1199,88 L1202,110 L1200,120 Z" fill="#d84a26"/>
<path d="M1208,108 L1212,90 L1224,86 L1230,102 Z" fill="#e8742c"/>
<path d="M1201,120 L1199,92 L1208,96 L1210,108 L1206,120 Z" fill="#d8b6a2"/>
<path d="M1206,120 L1214,104 L1232,102 L1252,120 Z" fill="#1a2428"/>
<path d="M1250,120 L1252,96 L1266,92 L1282,102 L1282,120 Z" fill="#d6d6c4"/>
<path d="M1262,104 L1272,100 L1278,110 L1268,114 Z" fill="#7a9070"/>
<path d="M1130,120 C1128,106 1134,96 1142,92 L1145,76 C1147,71 1155,71 1157,77 L1160,90 C1170,90 1180,94 1192,102 L1192,120 Z" fill="#ecdcc8"/>
<path d="M1170,96 C1176,100 1180,106 1176,114 L1168,116 Z" fill="#b8a090"/>
</g>
<text x="1070" y="112.5" font-family="Liberation Sans, sans-serif" font-weight="bold" font-size="11.5" fill="#f4f2ee" textLength="39" lengthAdjust="spacing">Yoga Mi</text>
</g>

</svg>
</body></html>
